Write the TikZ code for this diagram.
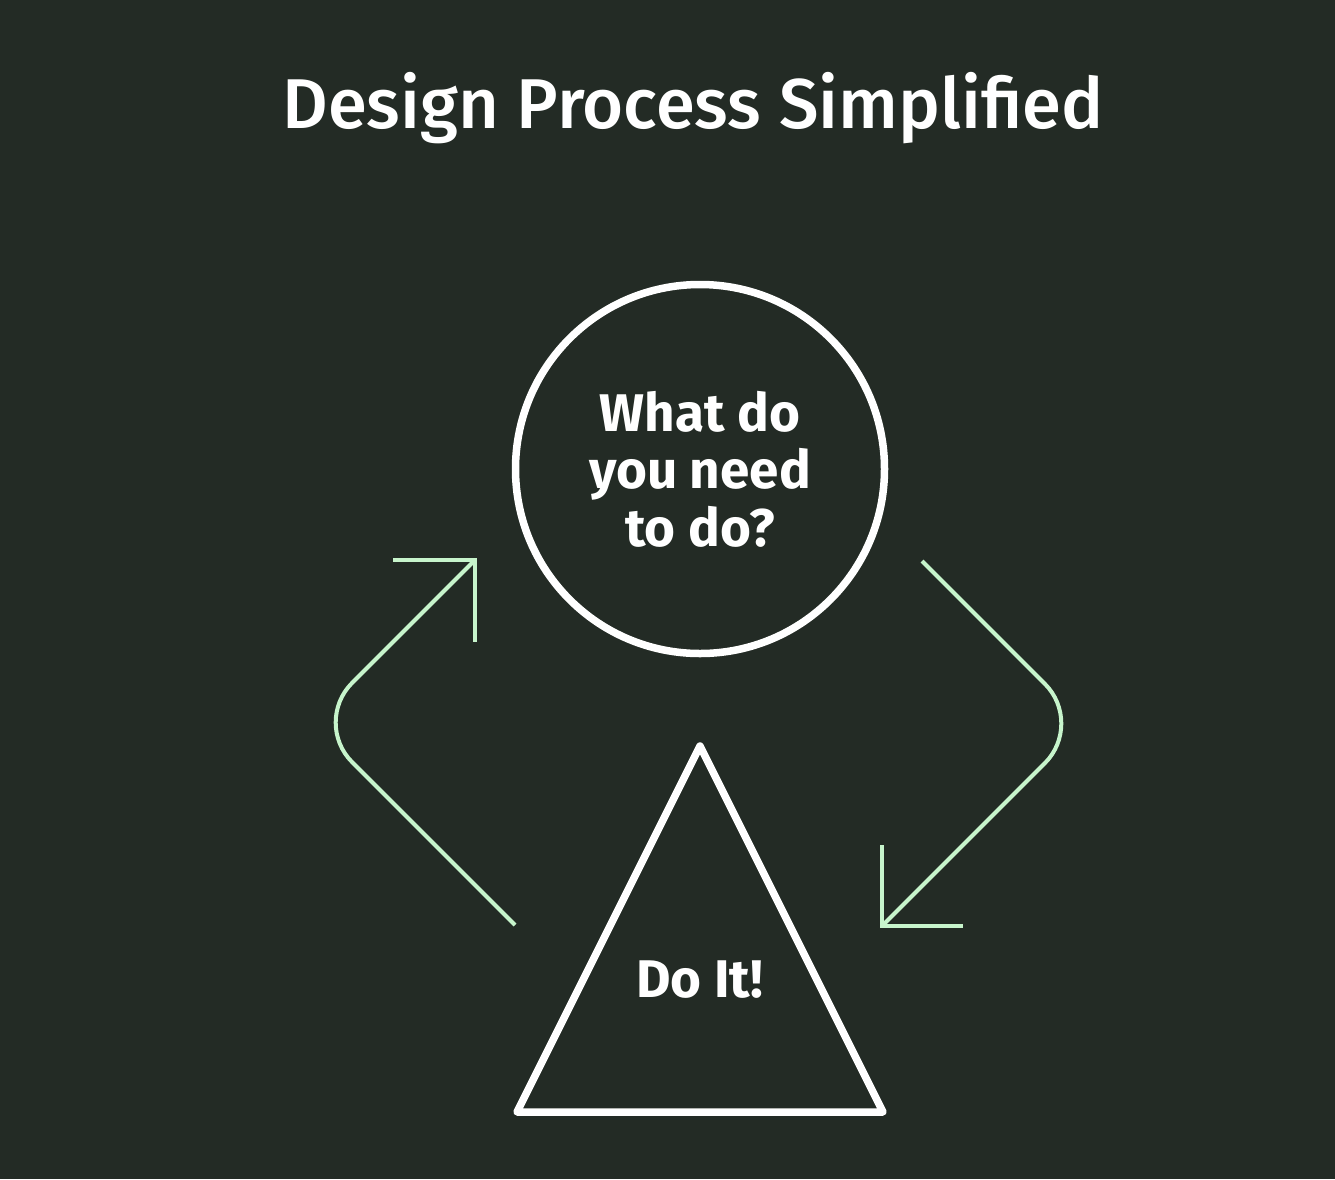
\documentclass[tikz,border=0pt]{standalone}
\usepackage{fontspec}
\setmainfont{Fira Sans}
\newfontfamily\semib{Fira Sans}[UprightFont=* Bold]
\newfontfamily\titlef{Fira Sans}[UprightFont=* Medium]
\definecolor{bgc}{HTML}{232B25}
\definecolor{arrowc}{HTML}{C7F5CC}
\begin{document}
\begin{tikzpicture}[x=1pt,y=-1pt,
  shapeline/.style={draw=white,line width=7.5pt,line join=round},
  flow/.style={draw=arrowc,line width=4pt,rounded corners=56pt},
  chevron/.style={draw=arrowc,line width=4pt,line join=miter},
  lbl/.style={text=white,inner sep=0pt,align=center,font=\semib\fontsize{53}{57.5}\selectfont}]
\fill[bgc] (0,0) rectangle (1335,1179);
\useasboundingbox (0,0) rectangle (1335,1179);
\node[text=white,inner sep=0pt,anchor=base,font=\titlef\fontsize{70.5}{80}\selectfont] (title) at (693,128) {Design Process Simplified};
\node[shapeline,circle,minimum size=369pt,inner sep=0pt] (q) at (700,469) {};
\node[lbl,anchor=base] (qt) at (700,546) {What do\\you need\\to do?};
\coordinate (dA) at (700,746);
\coordinate (dL) at (517,1112);
\coordinate (dR) at (883,1112);
\draw[shapeline] (dA) -- (dL) -- (dR) -- cycle;
\node[lbl,anchor=base] (dt) at (700,997) {Do It!};
% left arrow
\coordinate (l0) at (515,925);
\coordinate (lc) at (312.5,722.5);
\coordinate (l1) at (475,560);
\coordinate (lh1) at (393,560);
\coordinate (lh2) at (475,642);
\draw[flow] (l0) -- (lc) -- (l1);
\draw[chevron] (lh1) -- (l1) -- (lh2);
% right arrow
\coordinate (r0) at (922,561);
\coordinate (rc) at (1084.5,723.5);
\coordinate (r1) at (882,926);
\coordinate (rh1) at (882,845);
\coordinate (rh2) at (963,926);
\draw[flow] (r0) -- (rc) -- (r1);
\draw[chevron] (rh1) -- (r1) -- (rh2);
\end{tikzpicture}
\end{document}
